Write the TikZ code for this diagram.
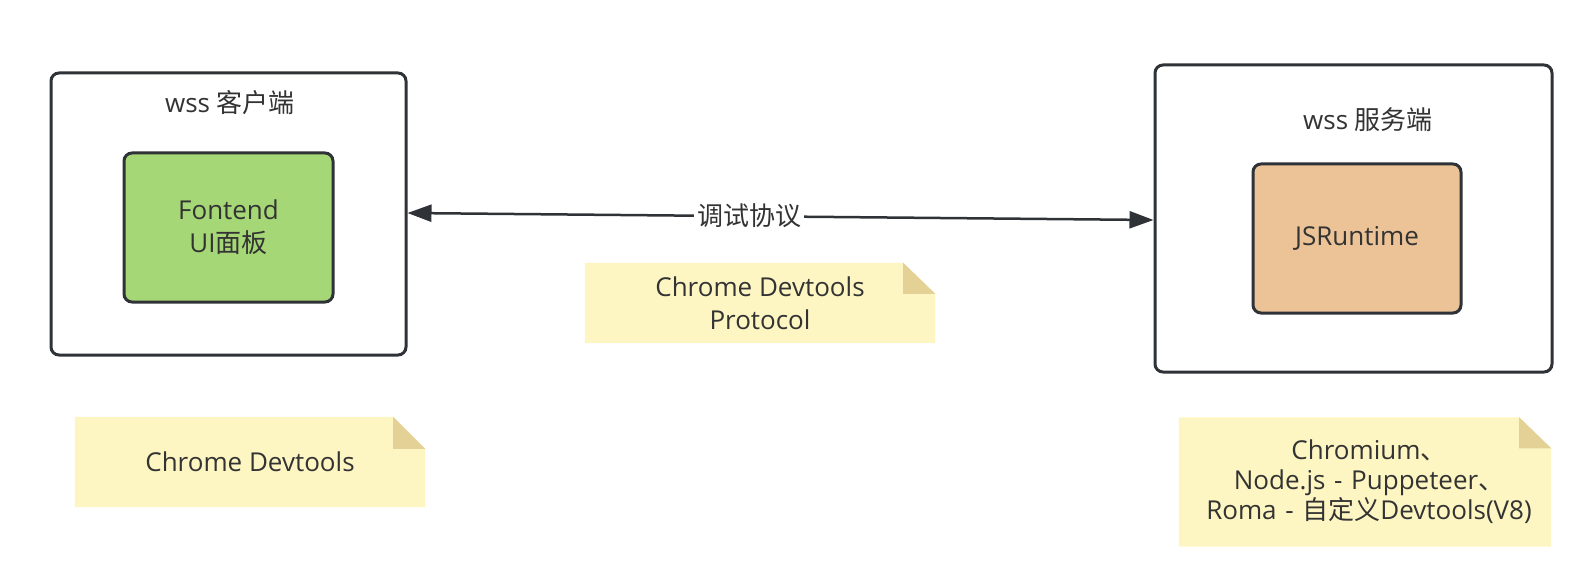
\documentclass[tikz,border=0pt]{standalone}
\usepackage{fontspec}
\setmainfont{Open Sans}
\newfontfamily\cjk{Noto Sans CJK SC}
\usetikzlibrary{arrows.meta,calc,backgrounds}
\definecolor{ink}{HTML}{333333}
\definecolor{edge}{HTML}{2F3236}
\definecolor{greenfill}{HTML}{A6D776}
\definecolor{orangefill}{HTML}{EBC397}
\definecolor{notefill}{HTML}{FEF6C2}
\definecolor{foldfill}{HTML}{E3D195}
\tikzset{
  outerbox/.style={draw=edge, line width=3pt, rounded corners=8pt, fill=white},
  innerbox/.style={draw=edge, line width=3pt, rounded corners=8pt},
  notebox/.style={inner sep=0pt},
}
\newcommand{\notebg}[3]{% name, fold width, fold height
  \fill[notefill] (#1.south west) -- (#1.north west) -- ($(#1.north east)+(-#2,0)$)
     -- ($(#1.north east)+(0,#3)$) -- (#1.south east) -- cycle;
  \fill[foldfill] ($(#1.north east)+(-#2,0)$) -- ($(#1.north east)+(0,#3)$)
     -- ($(#1.north east)+(-#2,#3)$) -- cycle;
}
\begin{document}
\begin{tikzpicture}[x=1pt,y=-1pt,
  every node/.style={text=ink, font=\fontsize{26}{30}\selectfont, inner sep=0pt, align=center}]
\useasboundingbox (0,0) rectangle (1596,588);

% client side
\node[outerbox, minimum width=355pt, minimum height=282pt] (client) at (228.5,214) {};
\node (clienttitle) at (230,103) {wss {\cjk 客户端}};
\node[innerbox, fill=greenfill, minimum width=209pt, minimum height=149pt,
      font=\fontsize{26}{33}\selectfont] (frontend) at (228.5,227.5) {Fontend\\UI{\cjk 面板}};

% server side
\node[outerbox, minimum width=397pt, minimum height=307pt] (server) at (1353.5,218.5) {};
\node (servertitle) at (1368,120) {wss {\cjk 服务端}};
\node[innerbox, fill=orangefill, minimum width=208pt, minimum height=149pt] (runtime) at (1357,238.5) {JSRuntime};

% connector
\draw[edge, line width=2.5pt, {Triangle[length=24pt,width=17pt]}-{Triangle[length=24pt,width=17pt]}]
  ([yshift=1pt]client.east) -- node[pos=0.458, fill=white, inner xsep=3pt, inner ysep=2pt,
  font=\cjk\fontsize{26}{30}\selectfont] (proto) {调试协议} ([yshift=-1.5pt]server.west);

% notes
\node[notebox, minimum width=350pt, minimum height=90pt] (note1) at (250,462) {Chrome Devtools};
\node[notebox, minimum width=350pt, minimum height=80pt, font=\fontsize{26}{33}\selectfont] (note2) at (760,303) {Chrome Devtools\\Protocol};
\node[notebox, minimum width=372pt, minimum height=129pt, text width=372pt] (note3) at (1365,482)
  {\hspace*{8pt}Chromium{\cjk 、}\\\hspace*{8pt}Node.js - Puppeteer{\cjk 、}\\\hspace*{8pt}Roma - {\cjk 自定义}Devtools(V8)};
\begin{scope}[on background layer]
  \fill[white] (0,0) rectangle (1596,588);
  \notebg{note1}{32}{32}
  \notebg{note2}{32}{31}
  \notebg{note3}{32}{31}
\end{scope}
\end{tikzpicture}
\end{document}
